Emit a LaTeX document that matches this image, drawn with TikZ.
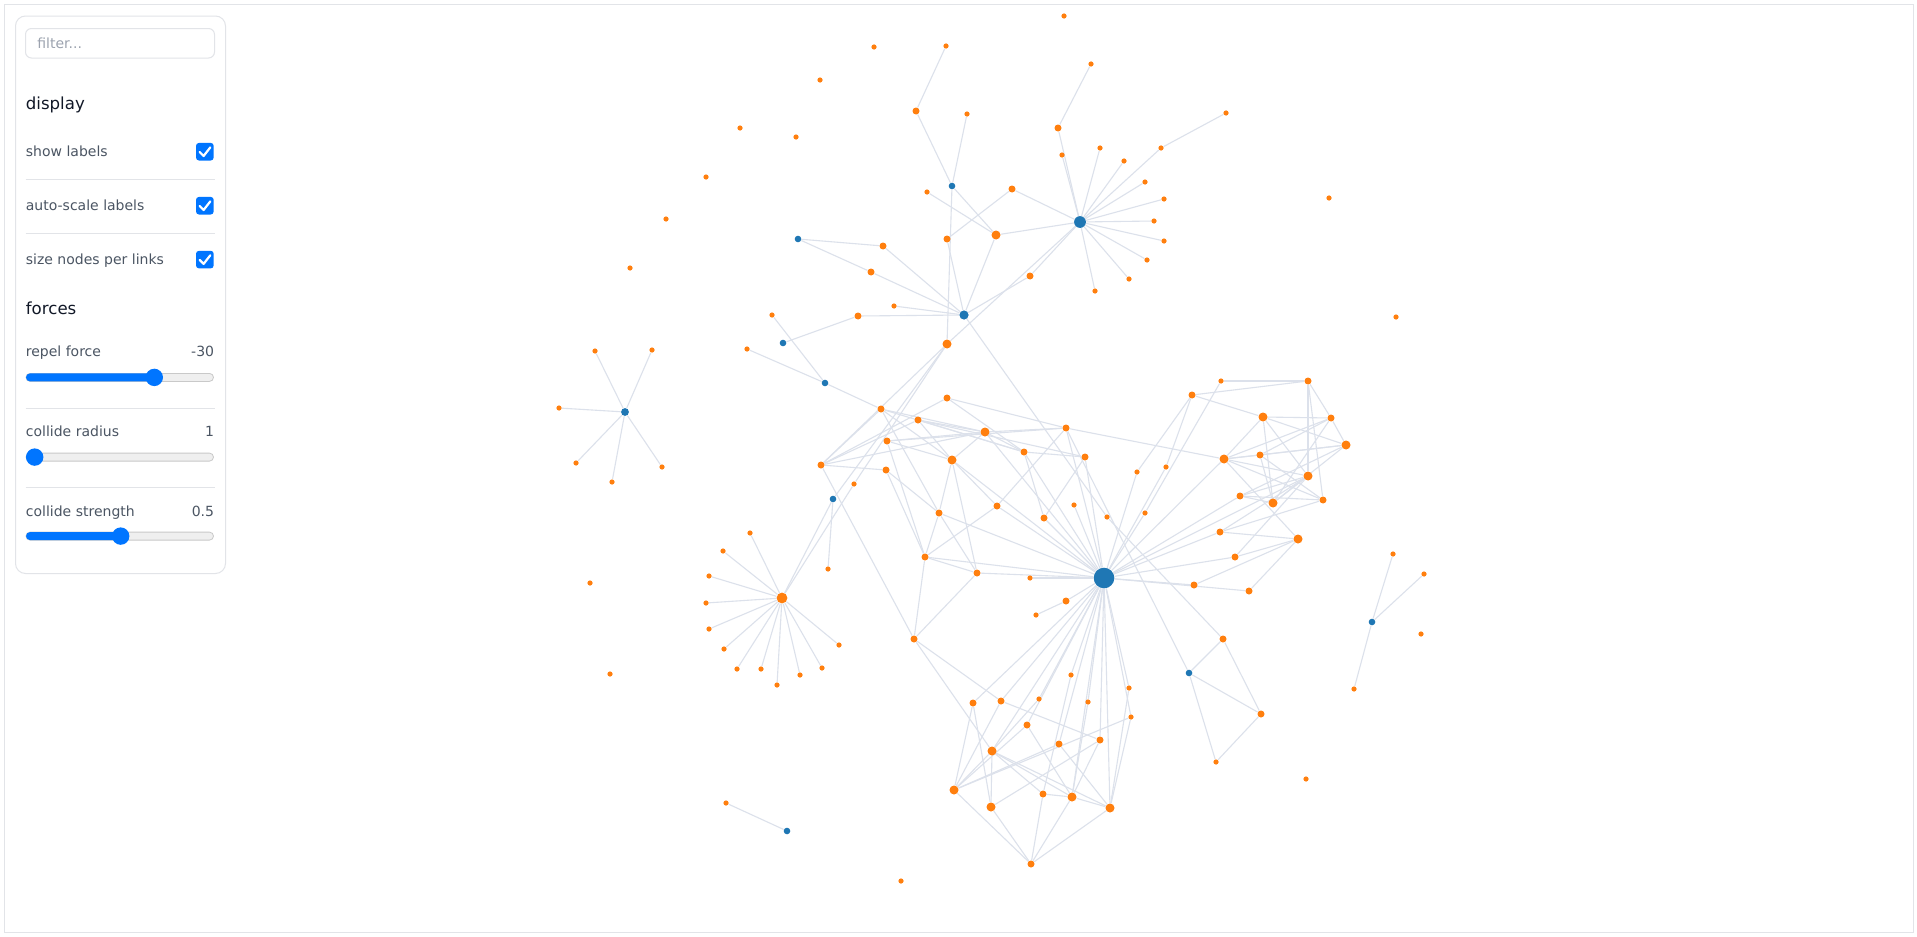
\documentclass[tikz,border=0pt]{standalone}
\usepackage{fontspec}
\setmainfont{DejaVu Sans}
\usetikzlibrary{backgrounds}

\definecolor{nodeorange}{HTML}{FF7F0E}
\definecolor{nodeblue}{HTML}{1F77B4}
\definecolor{linkgray}{HTML}{DCE1EB}
\definecolor{uiblue}{HTML}{0075FF}
\definecolor{framegray}{HTML}{E2E4E8}
\definecolor{textgray}{HTML}{4B5563}
\definecolor{textdark}{HTML}{111827}
\definecolor{placeholdergray}{HTML}{9CA3AF}
\definecolor{trackgray}{HTML}{EFEFEF}
\definecolor{trackedge}{HTML}{C9C9C9}

\tikzset{
  dot/.style={circle,inner sep=0pt,draw=none},
  osm/.style={dot,fill=nodeorange,minimum size=2.6pt},
  omd/.style={dot,fill=nodeorange,minimum size=3.5pt},
  olg/.style={dot,fill=nodeorange,minimum size=4.5pt},
  bsm/.style={dot,fill=nodeblue,minimum size=3.3pt},
  link/.style={draw=linkgray,line width=0.55pt},
  uitext/.style={inner sep=0pt,text=textgray,font=\fontsize{7pt}{8pt}\selectfont},
  uihead/.style={inner sep=0pt,text=textdark,font=\fontsize{8.3pt}{10pt}\selectfont},
  sep/.style={draw=framegray,line width=0.5pt},
  tick/.style={draw=white,line width=1.1pt,line cap=round,line join=round}
}

\begin{document}
\begin{tikzpicture}[x=0.5pt,y=-0.5pt]
\useasboundingbox (0,0) rectangle (1917,937);

% frame of the graph area
\draw[framegray,line width=0.5pt] (4.5,4.5) rectangle (1913.5,932);

% control panel
\draw[framegray,line width=0.5pt,rounded corners=5pt] (15.5,16) rectangle (225.5,573.5);
\draw[framegray,line width=0.5pt,rounded corners=3pt] (25.5,28.5) rectangle (214.5,58);
\node[uitext,text=placeholdergray,anchor=base west] (filter) at (37,48) {filter...};

\node[uihead,anchor=base west] (display) at (25.5,109.5) {display};
\node[uitext,anchor=base west] (showlabels) at (25.5,156) {show labels};
\node[uitext,anchor=base west] (autoscale) at (25.5,210) {auto-scale labels};
\node[uitext,anchor=base west] (sizenodes) at (25.5,264) {size nodes per links};
\foreach \cy in {151.7,205.7,259.6} {
  \fill[uiblue,rounded corners=1.5pt] (196,\cy-8.8) rectangle (213.7,\cy+8.8);
  \draw[tick] (199.6,\cy+0.3) -- (203.6,\cy+4.3) -- (210.3,\cy-4.3);
}
\draw[sep] (25.5,179.5) -- (214.5,179.5);
\draw[sep] (25.5,233) -- (214.5,233);

\node[uihead,anchor=base west] (forces) at (25.5,314) {forces};
\node[uitext,anchor=base west] (repel) at (25.5,356.5) {repel force};
\node[uitext,anchor=base east] (repelval) at (214.5,356.5) {-30};
\node[uitext,anchor=base west] (radius) at (25.5,436) {collide radius};
\node[uitext,anchor=base east] (radiusval) at (214.5,436) {1};
\node[uitext,anchor=base west] (strength) at (25.5,516) {collide strength};
\node[uitext,anchor=base east] (strengthval) at (214.5,516) {0.5};
\draw[sep] (25.5,408) -- (214.5,408);
\draw[sep] (25.5,487) -- (214.5,487);

\foreach \cy/\cx in {377.4/154.3,457.1/34.7,536.1/120.7} {
  \draw[trackedge,fill=trackgray,line width=0.4pt,rounded corners=2pt] (26,\cy-4) rectangle (213.5,\cy+4);
  \fill[uiblue,rounded corners=2pt] (26,\cy-4) rectangle (\cx,\cy+4);
  \fill[uiblue] (\cx,\cy) circle[radius=4.35pt];
}

% graph nodes
\foreach \n/\x/\y in {i1/1064/16,i2/874/47,i3/820/80,i4/740/128,i5/796/137,i6/706/177,
  i7/666/219,i8/630/268,i9/1329/198,i10/1396/317,i11/590/583,i12/610/674,i13/901/881,
  i14/1306/779,i15/1421/634,
  t1/946/46,t4/967/114,t5/927/192,t13/894/306,t16/772/315,t18/747/349,
  h2/1062/155,h3/1100/148,h4/1124/161,h5/1161/148,h6/1145/182,h7/1164/199,h8/1154/221,
  h9/1164/241,h10/1147/260,h11/1129/279,h12/1095/291,h13/1091/64,h14/1226/113,
  l1/595/351,l2/652/350,l3/559/408,l4/576/463,l5/612/482,l6/662/467,
  o1/750/533,o2/723/551,o3/709/576,o4/706/603,o5/709/629,o6/724/649,o7/737/669,
  o8/761/669,o9/777/685,o10/800/675,o11/822/668,o12/839/645,
  p1/726/803,q1/1393/554,q2/1424/574,q3/1354/689,d4/1216/762,
  c12/854/484,c16/1074/505,c17/1107/517,c18/828/569,c21/1030/578,c23/1036/615,
  r1/1221/381,r10/1137/472,r11/1166/467,r15/1145/513,
  e3/1039/699,e4/1071/675,e5/1088/702,e6/1129/688,e7/1131/717}
  \node[osm] (\n) at (\x,\y) {};

\foreach \n/\x/\y in {t2/916/111,t7/1012/189,t8/947/239,t11/883/246,t12/871/272,
  t14/858/316,t19/1030/276,h1/1058/128,
  c1/881/409,c2/947/398,c3/918/420,c5/1066/428,c6/887/441,c7/821/465,c8/886/470,
  c10/1024/452,c11/1085/457,c13/939/513,c14/997/506,c15/1044/518,c19/925/557,
  c20/977/573,c22/1066/601,d1/914/639,d2/1223/639,d3/1261/714,
  r2/1308/381,r3/1192/395,r5/1331/418,r8/1260/455,r12/1240/496,r14/1323/500,
  r16/1220/532,r18/1235/557,r19/1194/585,r20/1249/591,
  e1/973/703,e2/1001/701,e8/1027/725,e9/1100/740,e10/1059/744,e14/1043/794,e17/1031/864}
  \node[omd] (\n) at (\x,\y) {};

\foreach \n/\x/\y in {t6/996/235,t9/947/344,c4/985/432,c9/952/460,r4/1263/417,
  r6/1346/445,r7/1224/459,r9/1308/476,r13/1273/503,r17/1298/539,
  e11/992/751,e12/954/790,e13/991/807,e15/1072/797,e16/1110/808}
  \node[olg] (\n) at (\x,\y) {};

\node[dot,fill=nodeorange,minimum size=5.4pt] (ohub) at (782,598) {};

\foreach \n/\x/\y in {bt/952/186,bl/798/239,bm/783/343,bn/825/383,bo/833/499,
  bd/1189/673,br/1372/622,bb/787/831}
  \node[bsm] (\n) at (\x,\y) {};
\node[dot,fill=nodeblue,minimum size=3.9pt] (bs) at (625,412) {};
\node[dot,fill=nodeblue,minimum size=4.6pt] (hubc) at (964,315) {};
\node[dot,fill=nodeblue,minimum size=5.9pt] (hubb) at (1080,222) {};
\node[dot,fill=nodeblue,minimum size=10.3pt] (hub) at (1104,578) {};

% links
\begin{scope}[on background layer]
\fill[white] (0,0) rectangle (1917,937);
\foreach \a/\b in {t1/t2,t2/bt,t4/bt,bt/t6,bt/t9,t5/t6,t7/t8,t7/hubb,t6/hubb,t6/hubc,
  t8/hubc,bl/t11,bl/t12,t11/hubc,t12/hubc,t13/hubc,t14/hubc,t14/bm,t16/bn,t18/bn,
  t19/hubb,t19/hubc,hubb/t9,hubc/c17,h1/h13,h5/h14,
  hubb/h1,hubb/h2,hubb/h3,hubb/h4,hubb/h5,hubb/h6,hubb/h7,hubb/h8,hubb/h9,hubb/h10,
  hubb/h11,hubb/h12,
  bs/l1,bs/l2,bs/l3,bs/l4,bs/l5,bs/l6,bb/p1,br/q1,br/q2,br/q3,
  ohub/o1,ohub/o2,ohub/o3,ohub/o4,ohub/o5,ohub/o6,ohub/o7,ohub/o8,ohub/o9,ohub/o10,
  ohub/o11,ohub/o12,ohub/c12,c12/t9,ohub/bo,bo/t9,bo/c18,
  bn/c1,c7/c1,c7/c3,c7/c4,c7/c8,c7/d1,c7/t9,c2/c7,c2/c10,c2/c5,
  c1/c9,c1/c13,c1/c4,c1/c10,c3/c4,c3/c9,c3/c10,c3/c11,c6/c4,c6/c5,c6/c19,c6/c9,
  c4/c5,c4/c10,c4/c9,c4/hub,c9/c13,c9/c20,c9/c14,c9/hub,c5/c14,c5/hub,c5/r7,c5/bd,
  c10/c11,c10/c15,c10/hub,c11/c15,c11/hub,c13/c19,c13/c20,c13/hub,c14/c19,c14/hub,
  c8/c19,c8/c13,c19/c20,c19/hub,c19/d1,c20/hub,c20/d1,c21/hub,c22/hub,c22/c23,
  c16/hub,c15/hub,c17/d2,
  bd/d2,bd/d3,bd/d4,d4/d3,d2/d3,
  r1/r2,r3/r2,r3/r4,r3/r10,r3/r11,r1/r15,r10/hub,r11/hub,r15/hub,
  r4/r5,r4/r6,r4/r9,r4/r13,r4/r7,r2/r5,r2/r9,r2/r14,r5/r6,r5/r7,r5/r8,r5/r13,
  r6/r7,r6/r8,r6/r12,r6/r13,r7/r8,r7/r9,r7/r14,r7/r17,r7/hub,r8/r13,r8/r14,
  r9/r12,r9/r13,r9/r16,r9/r18,r12/r13,r12/r14,r12/hub,r14/r16,r16/r17,r16/hub,
  r17/r18,r17/r20,r17/r19,r18/hub,r19/hub,r20/hub,r9/hub,
  d1/e2,d1/e11,e1/e12,e1/e13,e1/hub,e2/e9,e2/e12,e2/hub,e3/e11,e3/hub,e4/hub,e4/e14,
  e5/hub,e5/e15,e6/e16,e6/hub,e7/e16,e7/e12,e7/hub,e8/e12,e8/e15,e8/hub,
  e9/e13,e9/e15,e9/hub,e10/e12,e10/e16,e10/hub,e11/e12,e11/e13,e11/e15,e11/e16,
  e11/e14,e11/hub,e12/e17,e13/e17,e14/e15,e14/e17,e15/e16,e15/e17,e16/e17,
  e15/hub,e16/hub}
  \draw[link] (\a) -- (\b);
\end{scope}

\end{tikzpicture}
\end{document}
